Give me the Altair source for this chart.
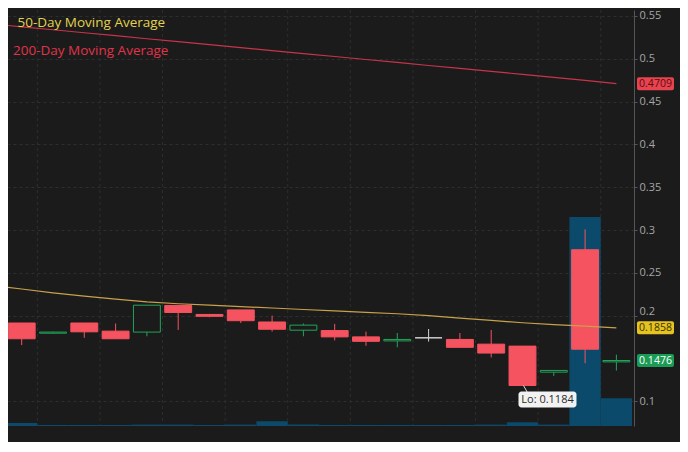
import json
import numpy as np
import pandas as pd
import altair as alt

# ---------------- data ----------------
dates = ["11/23", "11/25", "11/28", "11/29", "11/30", "12/1", "12/2", "12/5", "12/6", "12/7",
         "12/8", "12/9", "12/12", "12/13", "12/14", "12/15", "12/16", "12/19", "12/20", "12/21"]
opens = [0.1914, 0.1795, 0.1914, 0.1819, 0.1808, 0.2119, 0.2014, 0.2067, 0.1926, 0.1830,
         0.1826, 0.1752, 0.1705, 0.1741, 0.1722, 0.1667, 0.1644, 0.1340, 0.2770, 0.1460]
highs = [0.1914, 0.1812, 0.1914, 0.1908, 0.2122, 0.2119, 0.2020, 0.2067, 0.2000, 0.1908,
         0.1904, 0.1814, 0.1797, 0.1844, 0.1797, 0.1833, 0.1644, 0.1362, 0.3008, 0.1544]
lows = [0.1656, 0.1790, 0.1741, 0.1730, 0.1759, 0.1833, 0.1981, 0.1914, 0.1814, 0.1759,
        0.1711, 0.1648, 0.1630, 0.1697, 0.1630, 0.1511, 0.1184, 0.1296, 0.1444, 0.1359]
closes = [0.1730, 0.1808, 0.1811, 0.1730, 0.2122, 0.2037, 0.1992, 0.1941, 0.1841, 0.1889,
          0.1752, 0.1700, 0.1722, 0.1741, 0.1630, 0.1563, 0.1184, 0.1360, 0.1608, 0.1476]
volumes = [0.9, 0.3, 0.3, 0.3, 0.4, 0.4, 0.3, 0.4, 1.4, 0.4,
           0.3, 0.3, 0.3, 0.3, 0.3, 0.4, 1.1, 0.4, 60.3, 8.0]

# moving averages (first value is the session before the visible window)
ma_index = list(range(-1, 20))
ma50 = [0.2356, 0.2311, 0.2267, 0.2228, 0.2194, 0.2161, 0.2139, 0.2122, 0.2106, 0.2089, 0.2072,
        0.2056, 0.2039, 0.2022, 0.2000, 0.1972, 0.1944, 0.1917, 0.1894, 0.1878, 0.1858]
ma200 = [0.5409, 0.5373, 0.5339, 0.5304, 0.5270, 0.5234, 0.5200, 0.5166, 0.5131, 0.5096, 0.5061,
         0.5027, 0.4992, 0.4958, 0.4922, 0.4888, 0.4853, 0.4818, 0.4782, 0.4748, 0.4709]

y_ticks = [0.1, 0.2, 0.25, 0.3, 0.35, 0.4, 0.45, 0.5, 0.55]
x_tick_labels = ["11/28", "12/1", "12/5", "12/7", "12/9", "12/13", "12/15", "12/19", "12/21"]

# ---------------- style ----------------
BG = "#1b1b1b"
RED = "#f5535f"
GREEN = "#22a55a"
DOJI = "#d4d4d4"
BLUE = "#0b4a6b"
MA50_C = "#c9a14a"
MA200_C = "#c8344a"
GRID = "#2e2e2e"
AXIS_TXT = "#a6a6a6"
FONT = "Open Sans"

W, H = 626, 416
Y_MIN, Y_MAX = 0.0711, 0.5570
X_MIN, X_MAX = -0.4375, 19.5625

df = pd.DataFrame({
    "i": list(range(len(dates))), "date": dates, "open": opens, "high": highs,
    "low": lows, "close": closes, "volume": volumes,
})
df["dir"] = np.where(df.close > df.open, "up", np.where(df.close < df.open, "down", "doji"))
df["top"] = df[["open", "close"]].max(axis=1)
df["bot"] = df[["open", "close"]].min(axis=1)

ma_df = pd.DataFrame({"i": ma_index, "ma50": ma50, "ma200": ma200})

xs = alt.Scale(domain=[X_MIN, X_MAX], nice=False, zero=False)
ys = alt.Scale(domain=[Y_MIN, Y_MAX], nice=False, zero=False)
cscale = alt.Scale(domain=["down", "up", "doji"], range=[RED, GREEN, DOJI])

x_axis = alt.Axis(
    values=[dates.index(l) for l in x_tick_labels],
    labelExpr=json.dumps(dates) + "[datum.value]",
    title=None, grid=False, ticks=False, domain=True, domainColor="#474747",
    labelColor=AXIS_TXT, labelFontSize=11, labelFont=FONT, labelPadding=3, labelFlush=False,
)
y_axis = alt.Axis(
    orient="right", values=y_ticks, format="~g", title=None,
    grid=True, gridColor=GRID, gridDash=[3, 3], ticks=True, tickSize=3, tickColor="#555555",
    domain=True, domainColor="#555555", labelColor=AXIS_TXT, labelFontSize=11,
    labelFont=FONT, labelPadding=2,
    labelOffset={"condition": {"test": "datum.value == 0.2", "value": -4}, "value": 0},
)

base = alt.Chart(df)

# vertical dashed grid lines between every second pair of sessions
grid_df = pd.DataFrame({"gx": (df.i[::2] + 0.5).tolist()})
vgrid = alt.Chart(grid_df).mark_rule(color=GRID, strokeDash=[3, 3], strokeWidth=1).encode(
    x=alt.X("gx:Q", scale=xs, axis=None)
)

volume = base.transform_calculate(xl="datum.i - 0.5", xr="datum.i + 0.5", z="0").mark_rect(
    color=BLUE
).encode(
    x=alt.X("xl:Q", scale=xs, axis=None),
    x2="xr:Q",
    y=alt.Y("volume:Q", scale=alt.Scale(domain=[0, 120], nice=False, zero=True), axis=None),
    y2="z:Q",
)

upper_wick = base.mark_rule(strokeWidth=1).encode(
    x=alt.X("i:Q", scale=xs, axis=x_axis),
    y=alt.Y("top:Q", scale=ys, axis=y_axis),
    y2="high:Q",
    color=alt.Color("dir:N", scale=cscale, legend=None),
)
lower_wick = base.mark_rule(strokeWidth=1).encode(
    x=alt.X("i:Q", scale=xs),
    y=alt.Y("low:Q", scale=ys),
    y2="bot:Q",
    color=alt.Color("dir:N", scale=cscale, legend=None),
)

body_calc = dict(bl="datum.i - 0.43", br="datum.i + 0.43")
down_body = base.transform_filter("datum.dir == 'down'").transform_calculate(**body_calc).mark_rect(
    fill=RED, stroke=RED, strokeWidth=1
).encode(
    x=alt.X("bl:Q", scale=xs), x2="br:Q",
    y=alt.Y("open:Q", scale=ys), y2="close:Q",
)
up_body = base.transform_filter("datum.dir != 'down'").transform_calculate(**body_calc).mark_rect(
    fill=BG, strokeWidth=1
).encode(
    x=alt.X("bl:Q", scale=xs), x2="br:Q",
    y=alt.Y("open:Q", scale=ys), y2="close:Q",
    stroke=alt.Color("dir:N", scale=cscale, legend=None),
)

line50 = alt.Chart(ma_df).mark_line(color=MA50_C, strokeWidth=1.2, clip=True).encode(
    x=alt.X("i:Q", scale=xs), y=alt.Y("ma50:Q", scale=ys)
)
line200 = alt.Chart(ma_df).mark_line(color=MA200_C, strokeWidth=1.2, clip=True).encode(
    x=alt.X("i:Q", scale=xs), y=alt.Y("ma200:Q", scale=ys)
)

# price tags on the right axis
tags = pd.DataFrame({
    "v": [ma200[-1], ma50[-1], closes[-1]],
    "t": [f"{ma200[-1]:.4f}", f"{ma50[-1]:.4f}", f"{closes[-1]:.4f}"],
    "bg": ["#e8434f", "#e5c320", "#1a9c56"],
    "fg": ["#5a0d12", "#3a3000", "#ffffff"],
})
tag_box = alt.Chart(tags).mark_rect(cornerRadius=2, yOffset=-6.5, y2Offset=6.5).encode(
    x=alt.value(W + 3), x2=alt.value(W + 40),
    y=alt.Y("v:Q", scale=ys), y2="v:Q",
    fill=alt.Color("bg:N", scale=None),
)
tag_txt = alt.Chart(tags).mark_text(font=FONT, fontSize=10.5, align="center", baseline="middle").encode(
    x=alt.value(W + 21.5), y=alt.Y("v:Q", scale=ys), text="t:N",
    color=alt.Color("fg:N", scale=None),
)

# low annotation
lo_i = int(np.argmin(lows))
lo_df = pd.DataFrame({"i": [lo_i], "low": [lows[lo_i]], "t": [f"Lo: {lows[lo_i]:.4f}"]})
lo_ptr = alt.Chart(lo_df).mark_rule(color="#dcdcdc", strokeWidth=1, xOffset=1, x2Offset=5, y2Offset=7).encode(
    x=alt.X("i:Q", scale=xs), x2="i:Q", y=alt.Y("low:Q", scale=ys), y2="low:Q"
)
lo_box = alt.Chart(lo_df).mark_rect(
    fill="#f2f2f2", cornerRadius=3, xOffset=-4, x2Offset=54, yOffset=6, y2Offset=22
).encode(x=alt.X("i:Q", scale=xs), x2="i:Q", y=alt.Y("low:Q", scale=ys), y2="low:Q")
lo_txt = alt.Chart(lo_df).mark_text(
    font=FONT, fontSize=11, color="#2a2a2a", align="center", baseline="middle", dx=25, dy=14
).encode(x=alt.X("i:Q", scale=xs), y=alt.Y("low:Q", scale=ys), text="t:N")

# legend texts
leg_df = pd.DataFrame({"a": ["50-Day Moving Average"], "b": ["200-Day Moving Average"]})
leg50 = alt.Chart(leg_df).mark_text(font=FONT, fontSize=13.5, color="#e2d24e", align="left",
                                    baseline="middle").encode(
    x=alt.value(9.5), y=alt.value(13), text="a:N")
leg200 = alt.Chart(leg_df).mark_text(font=FONT, fontSize=13.5, color="#e0344a", align="left",
                                     baseline="middle").encode(
    x=alt.value(5), y=alt.value(41), text="b:N")

price = alt.layer(
    upper_wick, lower_wick, down_body, up_body, line200, line50,
    tag_box, tag_txt, lo_ptr, lo_box, lo_txt, leg50, leg200,
)

chart = alt.layer(vgrid, volume, price).resolve_scale(y="independent").properties(
    width=W, height=H,
    autosize=alt.AutoSizeParams(type="none"),
    padding={"left": 0, "top": 2, "right": 46, "bottom": 16},
    background=BG,
).configure_view(stroke=None, fill=BG)

chart.save("out.html", embed_options={"renderer": "svg", "actions": False})
